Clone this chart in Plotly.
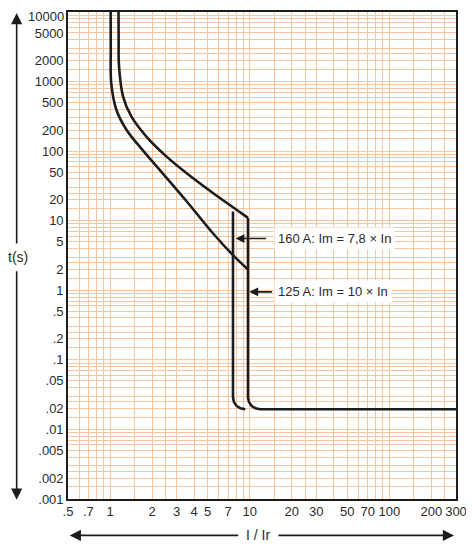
import math
import plotly.graph_objects as go

# tick labels
xLabelVals = [0.5, 0.7, 1, 2, 3, 4, 5, 7, 10, 20, 30, 50, 70, 100, 200, 300]
xLabelText = ['.5', '.7', '1', '2', '3', '4', '5', '7', '10', '20', '30', '50', '70', '100', '200', '300']
yLabelVals = [5000, 2000, 1000, 500, 200, 100, 50, 20, 10, 5, 2, 1,
              0.5, 0.2, 0.1, 0.05, 0.02, 0.01, 0.005, 0.002, 0.001]
yLabelText = ['5000', '2000', '1000', '500', '200', '100', '50', '20', '10', '5', '2', '1',
              '.5', '.2', '.1', '.05', '.02', '.01', '.005', '.002', '.001']
yTopLabel = '10000'

# log paper grid steps inside each decade
gridSteps = [1, 1.5, 2, 2.5, 3, 4, 5, 6, 7, 8, 9]

# thermal curves
upperX = [1.15, 1.152, 1.16, 1.24, 1.42, 1.82, 2.53, 3.52, 5.45, 7.59, 9.72]
upperT = [10000, 4000, 1640, 609, 315, 162, 84, 48.4, 25, 15.6, 10.97]
lowerX = [1.01, 1.012, 1.02, 1.11, 1.31, 1.70, 2.38, 3.52, 5.45, 7.59, 9.72]
lowerT = [10000, 3000, 949, 393, 203, 105, 48, 19.2, 6.6, 3.2, 1.99]

# magnetic trip parts
mag125X = [9.72, 9.72, 9.87, 10.29, 10.98, 11.9, 300]
mag125T = [10.97, 0.029, 0.0249, 0.0219, 0.0201, 0.0195, 0.0195]
mag160X = [7.59, 7.59, 7.70, 8.04, 8.58, 9.3]
mag160T = [13.6, 0.029, 0.0249, 0.0219, 0.0201, 0.0195]


def gridTicks(lo, hi, labelVals, labelText):
    vals, texts = [], []
    for d in range(-4, 5):
        for s in gridSteps:
            v = round(s * 10 ** d, 6)
            if lo <= v <= hi:
                vals.append(v)
                texts.append('')
    for v, t in zip(labelVals, labelText):
        if v in vals:
            texts[vals.index(v)] = t
    return vals, texts


xVals, xText = gridTicks(0.5, 300, xLabelVals, xLabelText)
yVals, yText = gridTicks(0.001, 10000, yLabelVals, yLabelText)

lineStyle = dict(color='#1c1c1c', width=2.6)
fnt = dict(family='Liberation Sans, Arial, sans-serif', size=13, color='#2b2b2b')
gridColor = '#f7c6a0'

fig = go.Figure()
fig.add_trace(go.Scatter(x=upperX, y=upperT, mode='lines', line=dict(shape='spline', **lineStyle)))
fig.add_trace(go.Scatter(x=lowerX, y=lowerT, mode='lines', line=dict(shape='spline', **lineStyle)))
fig.add_trace(go.Scatter(x=mag125X, y=mag125T, mode='lines', line=lineStyle))
fig.add_trace(go.Scatter(x=mag160X, y=mag160T, mode='lines', line=lineStyle))

annots = []
# curve labels
annots.append(dict(x=14.84, y=5.54, text='160 A: Im = 7,8 × In', showarrow=False, xanchor='left',
                   font=fnt, bgcolor='white', borderpad=3))
annots.append(dict(x=7.93, y=5.54, text='', showarrow=True, ax=32, ay=0, arrowhead=2,
                   arrowsize=1.1, arrowwidth=1.6, arrowcolor='#1c1c1c'))
annots.append(dict(x=14.84, y=0.95, text='125 A: Im = 10 × In', showarrow=False, xanchor='left',
                   font=fnt, bgcolor='white', borderpad=3))
annots.append(dict(x=9.95, y=0.95, text='', showarrow=True, ax=24, ay=0, arrowhead=2,
                   arrowsize=1.1, arrowwidth=1.6, arrowcolor='#1c1c1c'))
for a in annots:
    a['xref'] = 'x'
    a['yref'] = 'y'
    a['x'] = math.log10(a['x'])
    a['y'] = math.log10(a['y'])

# top y label sits a little below the frame, so it is placed by hand
annots.append(dict(x=0, xref='paper', y=4, yref='y', text=yTopLabel, showarrow=False,
                   xanchor='right', yanchor='middle', xshift=-2, yshift=-4, font=fnt))

# axis arrows outside the plot
arrowStyle = dict(xref='paper', yref='paper', text='', showarrow=True, arrowhead=2,
                  arrowsize=1.4, arrowwidth=1.6, arrowcolor='#1c1c1c')
annots.append(dict(x=-0.1323, y=0.998, ax=0, ay=232, **arrowStyle))
annots.append(dict(x=-0.1323, y=-0.0014, ax=0, ay=-230, **arrowStyle))
annots.append(dict(x=0.0044, y=-0.0747, ax=170, ay=0, **arrowStyle))
annots.append(dict(x=0.9948, y=-0.0747, ax=-177, ay=0, **arrowStyle))
annots.append(dict(x=-0.1297, y=0.4972, xref='paper', yref='paper', text='t(s)', showarrow=False,
                   xanchor='center', yanchor='middle', font=dict(fnt, size=14)))
annots.append(dict(x=0.489, y=-0.0747, xref='paper', yref='paper', text='I / Ir', showarrow=False,
                   xanchor='center', yanchor='middle', font=dict(fnt, size=14)))

# the page body has an 8px margin, so the figure is sized to fit inside it
fig.update_layout(
    width=466, height=543,
    margin=dict(l=60, r=18, t=4, b=52),
    paper_bgcolor='white',
    plot_bgcolor='white',
    showlegend=False,
    annotations=annots,
    font=fnt,
)
fig.update_xaxes(type='log', range=[-0.30103, 2.4771], tickmode='array', tickvals=xVals, ticktext=xText,
                 showgrid=True, gridcolor=gridColor, gridwidth=1,
                 showline=True, mirror=True, linecolor='#1c1c1c', linewidth=1.6, ticks='', zeroline=False,
                 tickfont=fnt, automargin=False)
fig.update_yaxes(type='log', range=[-3, 4], tickmode='array', tickvals=yVals, ticktext=yText,
                 showgrid=True, gridcolor=gridColor, gridwidth=1,
                 showline=True, mirror=True, linecolor='#1c1c1c', linewidth=1.6, ticks='', zeroline=False,
                 tickfont=fnt, automargin=False)

fig.write_html("out.html")
